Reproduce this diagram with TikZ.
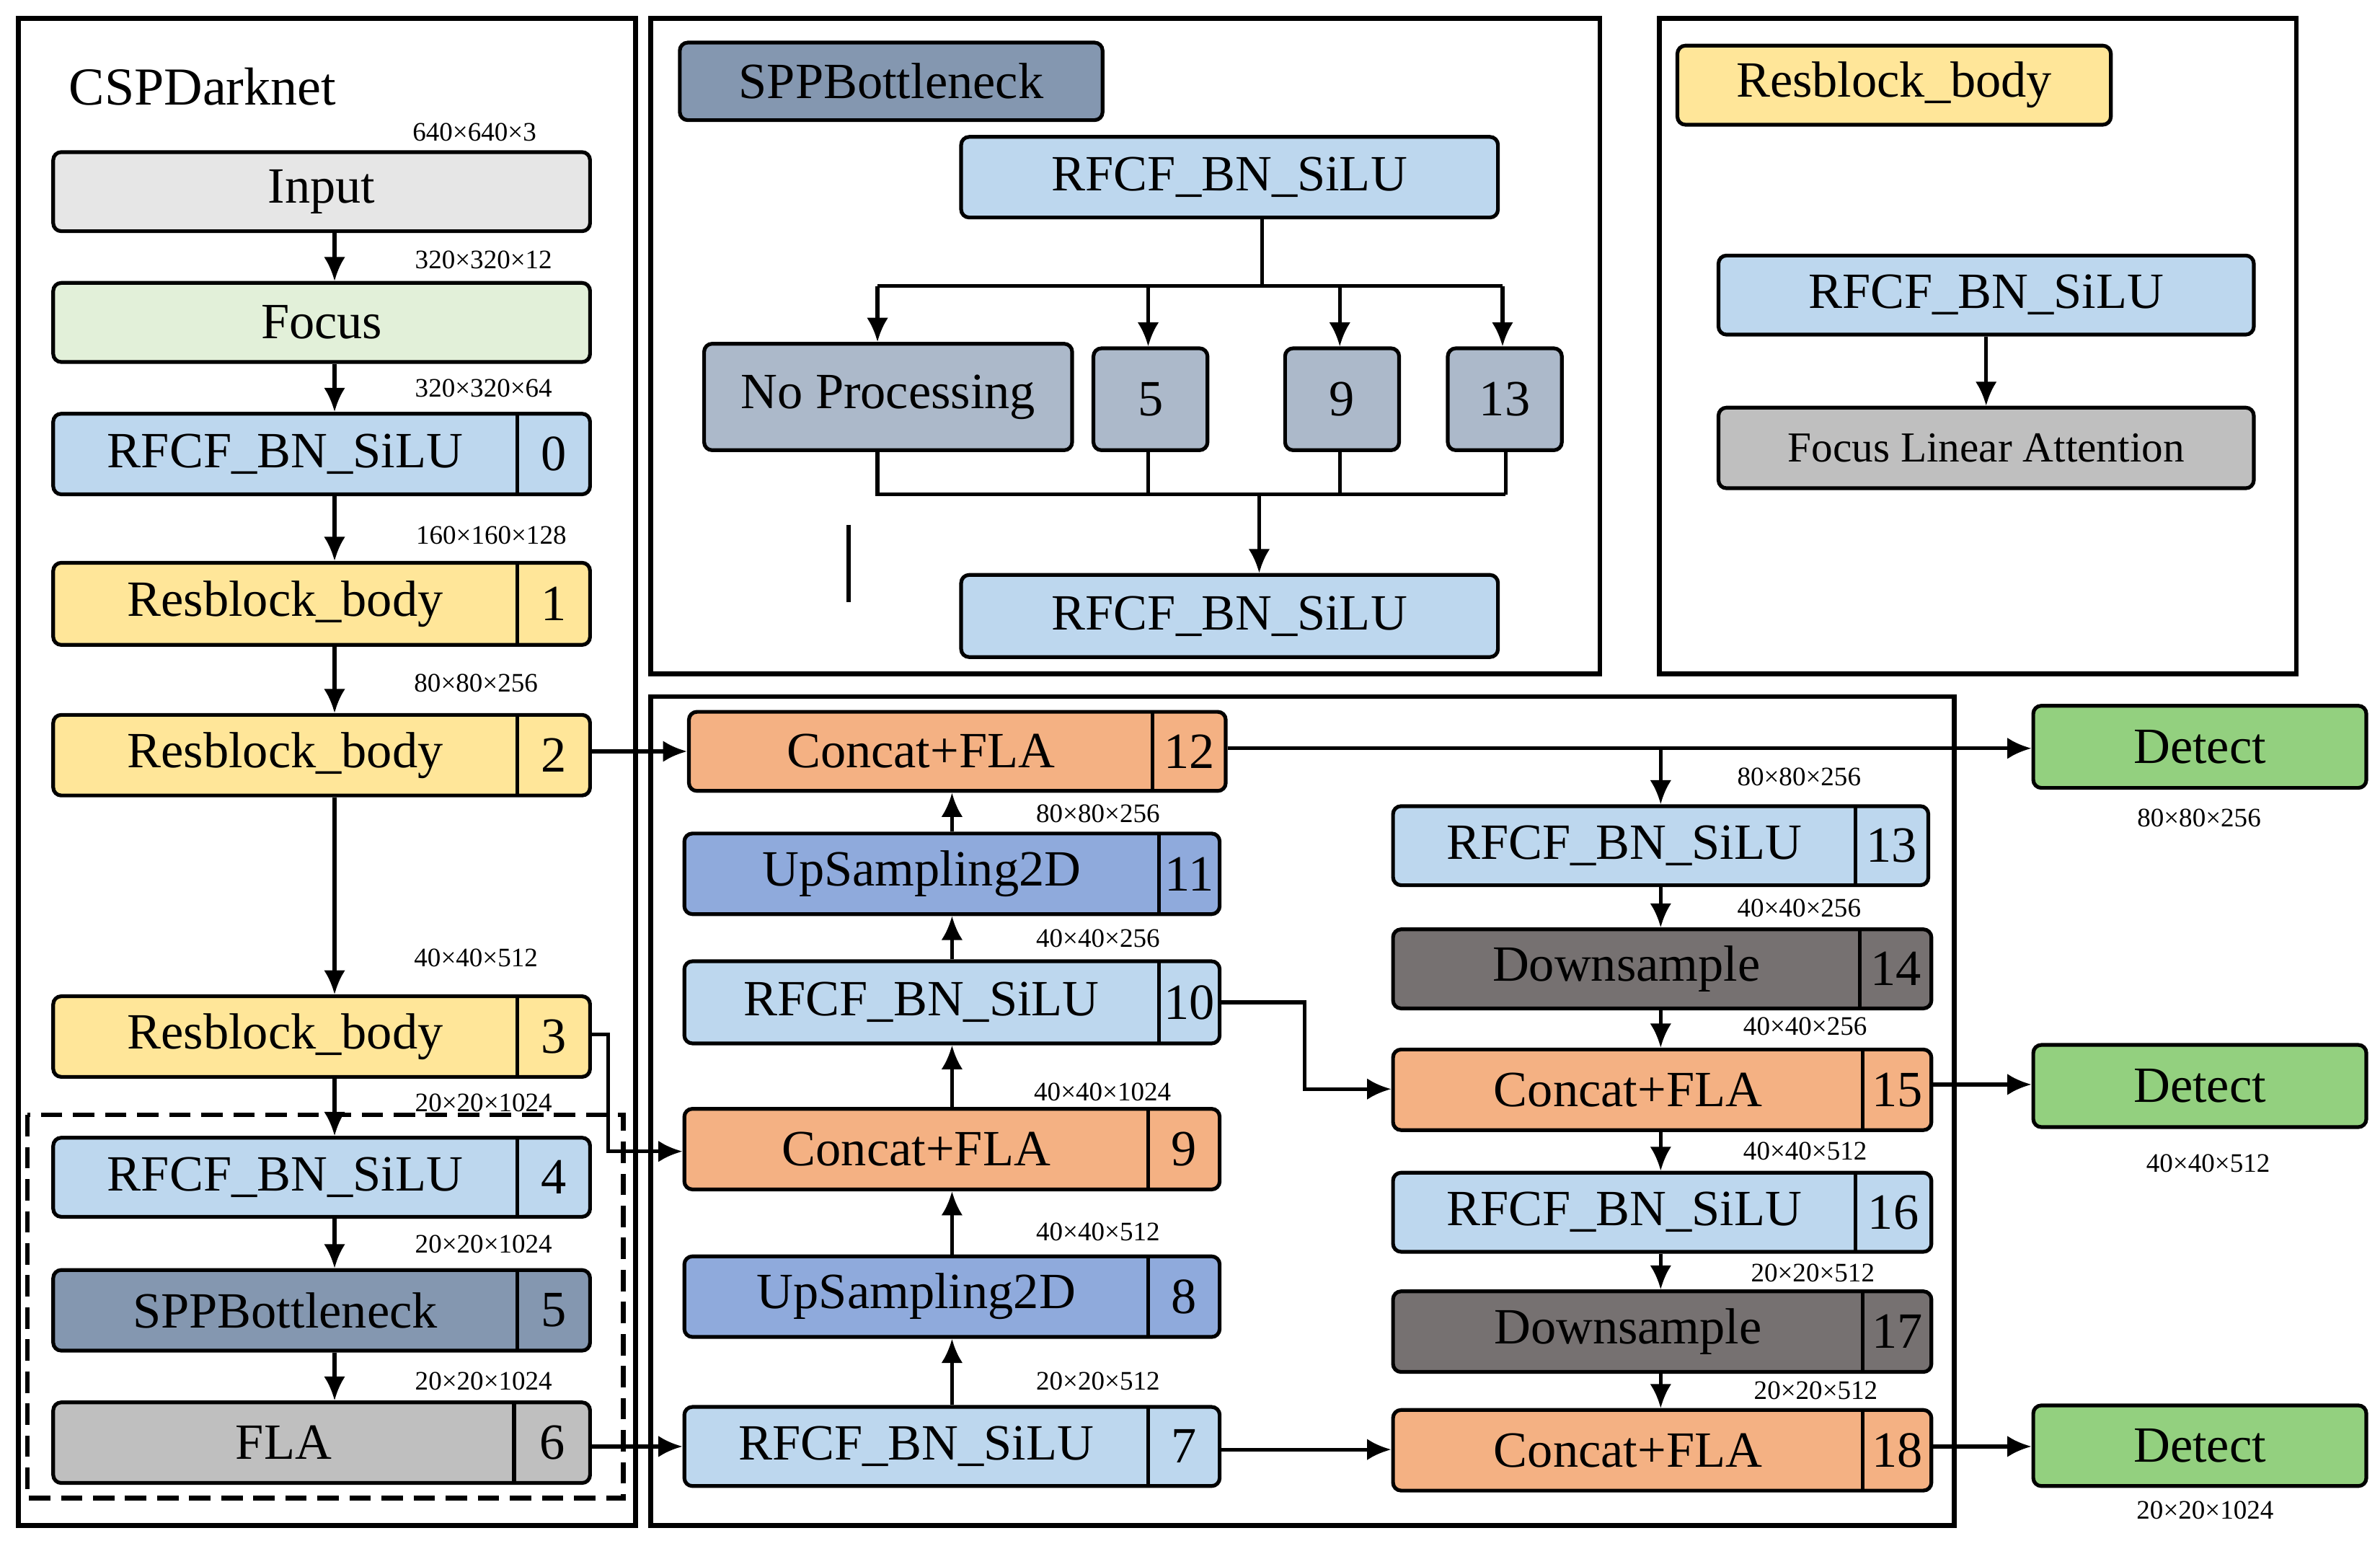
\documentclass[tikz,border=0pt]{standalone}
\usepackage{fontspec}
\setmainfont{Liberation Serif}
\usetikzlibrary{arrows.meta}
\definecolor{cgray}{HTML}{E6E6E6}
\definecolor{cgreen}{HTML}{E2F0D9}
\definecolor{cblue}{HTML}{BDD7EE}
\definecolor{cyel}{HTML}{FFE699}
\definecolor{cspp}{HTML}{8497B0}
\definecolor{cfla}{HTML}{BFBFBF}
\definecolor{corg}{HTML}{F4B183}
\definecolor{cup}{HTML}{8FAADC}
\definecolor{cdark}{HTML}{767171}
\definecolor{cdet}{HTML}{93D07F}
\definecolor{cnp}{HTML}{ACB9CA}
\tikzset{
 frame/.style={draw,line width=1.8pt},
 box/.style={draw,line width=1.4pt,rounded corners=3pt,inner sep=0pt},
 btxt/.style={font=\fontsize{19}{22}\selectfont,inner sep=0pt},
 lbl/.style={font=\fontsize{10}{12}\selectfont,inner sep=0pt},
 con/.style={line width=1.4pt},
 arr/.style={con,-{Latex[length=9pt,width=8pt]}}
}
\newcommand\bx[7]{\node[box,#6,minimum width={(#4-#2)*0.02cm},minimum height={(#5-#3)*0.02cm}] (#1) at ({(#2+#4)/2},{(#3+#5)/2}) {};
 \node[btxt] at (#1) {#7};}
\newcommand\nbx[9]{\node[box,#7,minimum width={(#4-#2)*0.02cm},minimum height={(#5-#3)*0.02cm}] (#1) at ({(#2+#4)/2},{(#3+#5)/2}) {};
 \node[btxt] (#1t) at ({(#2+#6)/2},{(#3+#5)/2}) {#8};
 \draw[line width=1.4pt] (#6,#3) -- (#6,#5);
 \node[btxt] (#1n) at ({(#6+#4)/2},{(#3+#5)/2}) {#9};}
\begin{document}
\begin{tikzpicture}[x=0.02cm,y=-0.02cm]
\useasboundingbox (0,0) rectangle (1565,1013);
% frames
\draw[frame] (12,12) rectangle (418,1003);
\draw[frame] (428,12) rectangle (1052,443);
\draw[frame] (1091,12) rectangle (1510,443);
\draw[frame] (428,458) rectangle (1285,1003);
\draw[line width=1.8pt,dash pattern=on 8pt off 4pt] (18,733) rectangle (410,985);
\node[anchor=west,font=\fontsize{20}{24}\selectfont,inner sep=0pt] (title) at (45,57) {CSPDarknet};
% backbone
\bx{in}{35}{100}{388}{152}{fill=cgray}{Input}
\bx{foc}{35}{186}{388}{238}{fill=cgreen}{Focus}
\nbx{b0}{35}{272}{388}{325}{340}{fill=cblue}{RFCF\_BN\_SiLU}{0}
\nbx{b1}{35}{370}{388}{424}{340}{fill=cyel}{Resblock\_body}{1}
\nbx{b2}{35}{470}{388}{523}{340}{fill=cyel}{Resblock\_body}{2}
\nbx{b3}{35}{655}{388}{708}{340}{fill=cyel}{Resblock\_body}{3}
\nbx{b4}{35}{748}{388}{800}{340}{fill=cblue}{RFCF\_BN\_SiLU}{4}
\nbx{b5}{35}{835}{388}{888}{340}{fill=cspp}{SPPBottleneck}{5}
\nbx{b6}{35}{922}{388}{975}{338}{fill=cfla}{FLA}{6}
\node[lbl] (l1) at (312,87) {640×640×3};
\node[lbl] (l2) at (318,171) {320×320×12};
\node[lbl] (l3) at (318,255) {320×320×64};
\node[lbl] (l4) at (323,352) {160×160×128};
\node[lbl] (l5) at (313,449) {80×80×256};
\node[lbl] (l6) at (313,630) {40×40×512};
\node[lbl] (l7) at (318,725) {20×20×1024};
\node[lbl] (l8) at (318,818) {20×20×1024};
\node[lbl] (l9) at (318,908) {20×20×1024};
\foreach \a/\b in {in/foc,foc/b0,b0/b1,b1/b2,b2/b3,b3/b4,b4/b5,b5/b6}
 \draw[arr] (\a.south -| 220,0) -- (\b.north -| 220,0);
% SPP
\bx{st}{447}{28}{725}{79}{fill=cspp}{SPPBottleneck}
\bx{s1}{632}{90}{985}{143}{fill=cblue}{RFCF\_BN\_SiLU}
\bx{np}{463}{226}{705}{296}{fill=cnp}{No Processing}
\bx{p5}{719}{229}{794}{296}{fill=cnp}{5}
\bx{p9}{845}{229}{920}{296}{fill=cnp}{9}
\bx{p13}{952}{229}{1027}{296}{fill=cnp}{13}
\bx{s2}{632}{378}{985}{432}{fill=cblue}{RFCF\_BN\_SiLU}
\draw[con] (s1.south -| 830,0) -- (830,188);
\draw[con] (577,188) -- (988,188);
\draw[arr] (577,188) -- (np.north -| 577,0);
\draw[arr] (755,188) -- (p5.north -| 755,0);
\draw[arr] (881,188) -- (p9.north -| 881,0);
\draw[arr] (988,188) -- (p13.north -| 988,0);
\draw[con] (np.south -| 577,0) -- (577,325) -- (990,325);
\draw[con] (p5.south -| 755,0) -- (755,325);
\draw[con] (p9.south -| 881,0) -- (881,325);
\draw[con] (p13.south -| 990,0) -- (990,325);
\draw[arr] (828,325) -- (s2.north -| 828,0);
\draw[con] (558,345) -- (558,396);
% Resblock
\bx{rt}{1103}{30}{1388}{82}{fill=cyel}{Resblock\_body}
\bx{r1}{1130}{168}{1482}{220}{fill=cblue}{RFCF\_BN\_SiLU}
\node[box,fill=cfla,minimum width={352*0.02cm},minimum height={53*0.02cm}] (r2) at (1306,294.5) {};
\node[font=\fontsize{16}{19}\selectfont,inner sep=0pt] at (r2) {Focus Linear Attention};
\draw[arr] (r1) -- (r2);
% neck
\nbx{n12}{453}{468}{806}{520}{758}{fill=corg}{Concat+FLA}{12}
\nbx{n11}{450}{548}{802}{601}{762}{fill=cup}{UpSampling2D}{11}
\nbx{n10}{450}{632}{802}{686}{762}{fill=cblue}{RFCF\_BN\_SiLU}{10}
\nbx{n9}{450}{729}{802}{782}{755}{fill=corg}{Concat+FLA}{9}
\nbx{n8}{450}{826}{802}{879}{755}{fill=cup}{UpSampling2D}{8}
\nbx{n7}{450}{925}{802}{977}{755}{fill=cblue}{RFCF\_BN\_SiLU}{7}
\nbx{n13}{916}{530}{1268}{582}{1220}{fill=cblue}{RFCF\_BN\_SiLU}{13}
\nbx{n14}{916}{611}{1270}{663}{1223}{fill=cdark}{Downsample}{14}
\nbx{n15}{916}{690}{1270}{743}{1225}{fill=corg}{Concat+FLA}{15}
\nbx{n16}{916}{771}{1270}{823}{1220}{fill=cblue}{RFCF\_BN\_SiLU}{16}
\nbx{n17}{916}{849}{1270}{902}{1225}{fill=cdark}{Downsample}{17}
\nbx{n18}{916}{927}{1270}{980}{1225}{fill=corg}{Concat+FLA}{18}
\bx{d1}{1337}{464}{1556}{518}{fill=cdet}{Detect}
\bx{d2}{1337}{687}{1556}{741}{fill=cdet}{Detect}
\bx{d3}{1337}{924}{1556}{977}{fill=cdet}{Detect}
\node[lbl] (m1) at (722,535) {80×80×256};
\node[lbl] (m2) at (722,617) {40×40×256};
\node[lbl] (m3) at (725,718) {40×40×1024};
\node[lbl] (m4) at (722,810) {40×40×512};
\node[lbl] (m5) at (722,908) {20×20×512};
\node[lbl] (m6) at (1183,511) {80×80×256};
\node[lbl] (m7) at (1183,597) {40×40×256};
\node[lbl] (m8) at (1187,675) {40×40×256};
\node[lbl] (m9) at (1187,757) {40×40×512};
\node[lbl] (m10) at (1192,837) {20×20×512};
\node[lbl] (m11) at (1194,914) {20×20×512};
\node[lbl] (m12) at (1446,538) {80×80×256};
\node[lbl] (m13) at (1452,765) {40×40×512};
\node[lbl] (m14) at (1450,993) {20×20×1024};
\foreach \a/\b in {n7/n8,n8/n9,n9/n10,n10/n11,n11/n12}
 \draw[arr] (\a.north -| 626,0) -- (\b.south -| 626,0);
\foreach \a/\b in {n13/n14,n14/n15,n15/n16,n16/n17,n17/n18}
 \draw[arr] (\a.south -| 1092,0) -- (\b.north -| 1092,0);
\draw[arr] (b2.east |- 0,494) -- (n12.west |- 0,494);
\draw[arr] (n12.east |- 0,492) -- (d1.west |- 0,492);
\draw[arr] (1092,492) -- (n13.north -| 1092,0);
\draw[arr] (b3.east |- 0,680) -- (400,680) -- (400,757) -- (n9.west |- 0,757);
\draw[arr] (n10.east |- 0,659) -- (858,659) -- (858,716) -- (n15.west |- 0,716);
\draw[arr] (b6.east |- 0,951) -- (n7.west |- 0,951);
\draw[arr] (n7.east |- 0,953) -- (n18.west |- 0,953);
\draw[arr] (n15.east |- 0,713) -- (d2.west |- 0,713);
\draw[arr] (n18.east |- 0,951) -- (d3.west |- 0,951);
\end{tikzpicture}
\end{document}
